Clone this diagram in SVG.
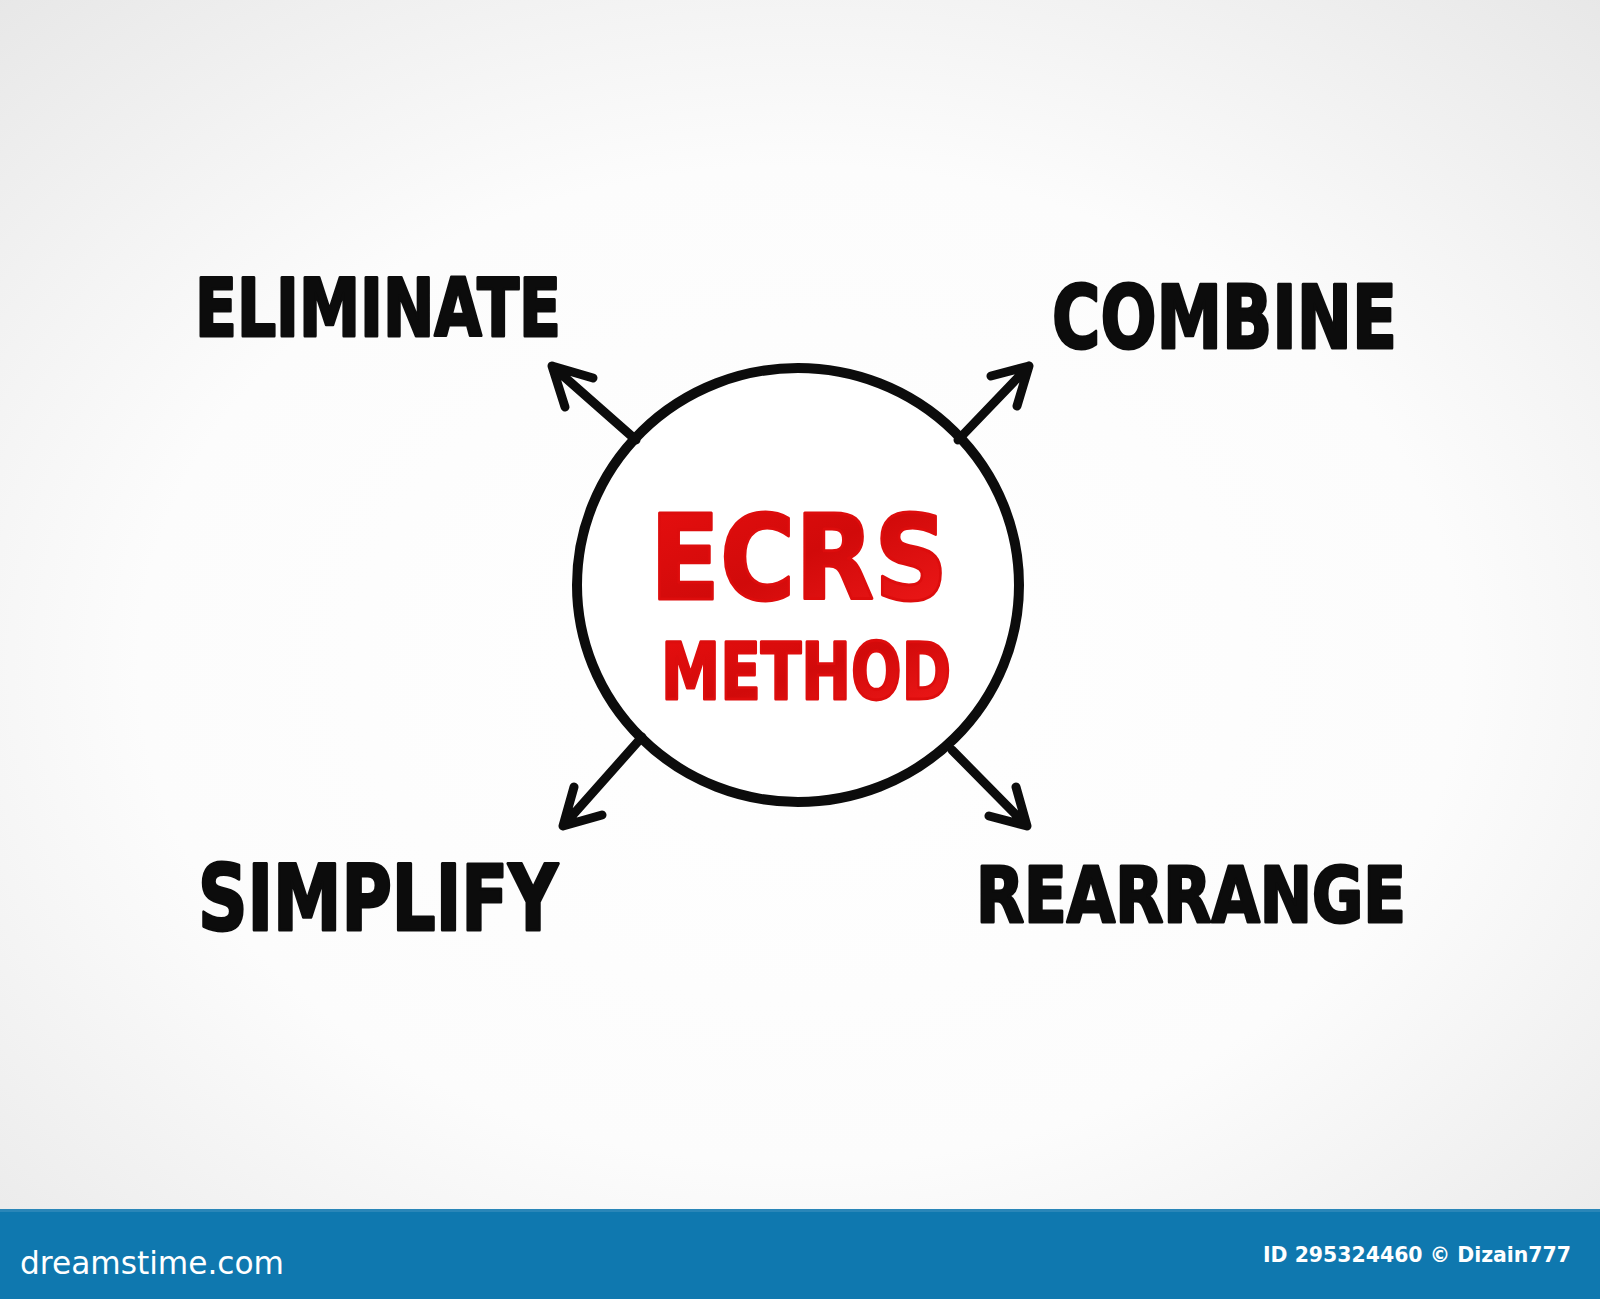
<svg xmlns="http://www.w3.org/2000/svg" width="1600" height="1299" viewBox="0 0 1600 1299">
<defs>
<radialGradient id="bg" cx="0.5" cy="0.55" r="0.75">
<stop offset="0" stop-color="#ffffff"/>
<stop offset="0.55" stop-color="#fcfcfc"/>
<stop offset="1" stop-color="#e7e7e7"/>
</radialGradient>
<linearGradient id="red" x1="0" y1="0" x2="1" y2="1">
<stop offset="0" stop-color="#e80f0f"/>
<stop offset="0.5" stop-color="#d10a0a"/>
<stop offset="1" stop-color="#f21a1a"/>
</linearGradient>
</defs>
<style>
.lbl{font-family:"DejaVu Sans","Liberation Sans",sans-serif;font-weight:bold;fill:#0c0c0c;stroke:#0c0c0c;stroke-width:3;stroke-linejoin:round}
.red{font-family:"DejaVu Sans","Liberation Sans",sans-serif;font-weight:bold;fill:url(#red);stroke:#dd0d0d;stroke-width:3;stroke-linejoin:round}
.arr{fill:none;stroke:#0c0c0c;stroke-width:9;stroke-linecap:round;stroke-linejoin:round}
.foot{font-family:"DejaVu Sans","Liberation Sans",sans-serif;fill:#ffffff}
</style>
<rect x="0" y="0" width="1600" height="1209" fill="url(#bg)"/>
<rect x="0" y="1209" width="1600" height="90" fill="#0f78af"/>
<rect x="0" y="1209" width="1600" height="3" fill="#2a86b8"/>

<g id="center">
<ellipse cx="798" cy="585" rx="221" ry="217" fill="#ffffff" stroke="#0c0c0c" stroke-width="10"/>
<text class="red" x="799" y="599" font-size="118" text-anchor="middle" textLength="298" lengthAdjust="spacingAndGlyphs">ECRS</text>
<text class="red" x="806" y="699" font-size="78" text-anchor="middle" textLength="290" lengthAdjust="spacingAndGlyphs">METHOD</text>
</g>

<g id="connectors">
<path class="arr" d="M636,440 L552,366 M593,378 L552,366 L565,407"/>
<path class="arr" d="M958,440 L1029,366 M991,376 L1029,366 L1017,406"/>
<path class="arr" d="M642,737 L563,826 M574,787 L563,826 L602,815"/>
<path class="arr" d="M952,750 L1027,826 M1016,787 L1027,826 L989,816"/>
</g>

<g id="eliminate">
<text class="lbl" x="195" y="336" font-size="80" textLength="366" lengthAdjust="spacingAndGlyphs">ELIMINATE</text>
</g>
<g id="combine">
<text class="lbl" x="1052" y="348" font-size="88" textLength="345" lengthAdjust="spacingAndGlyphs">COMBINE</text>
</g>
<g id="simplify">
<text class="lbl" x="198" y="930" font-size="90" textLength="360" lengthAdjust="spacingAndGlyphs">SIMPLIFY</text>
</g>
<g id="rearrange">
<text class="lbl" x="976" y="922" font-size="76" textLength="430" lengthAdjust="spacingAndGlyphs">REARRANGE</text>
</g>

<g id="footer">
<text class="foot" x="20" y="1274" font-size="32" textLength="264" lengthAdjust="spacingAndGlyphs">dreamstime.com</text>
<text class="foot" x="1571" y="1262" font-size="22" font-weight="bold" text-anchor="end" textLength="308" lengthAdjust="spacingAndGlyphs">ID 295324460 © Dizain777</text>
</g>
</svg>
